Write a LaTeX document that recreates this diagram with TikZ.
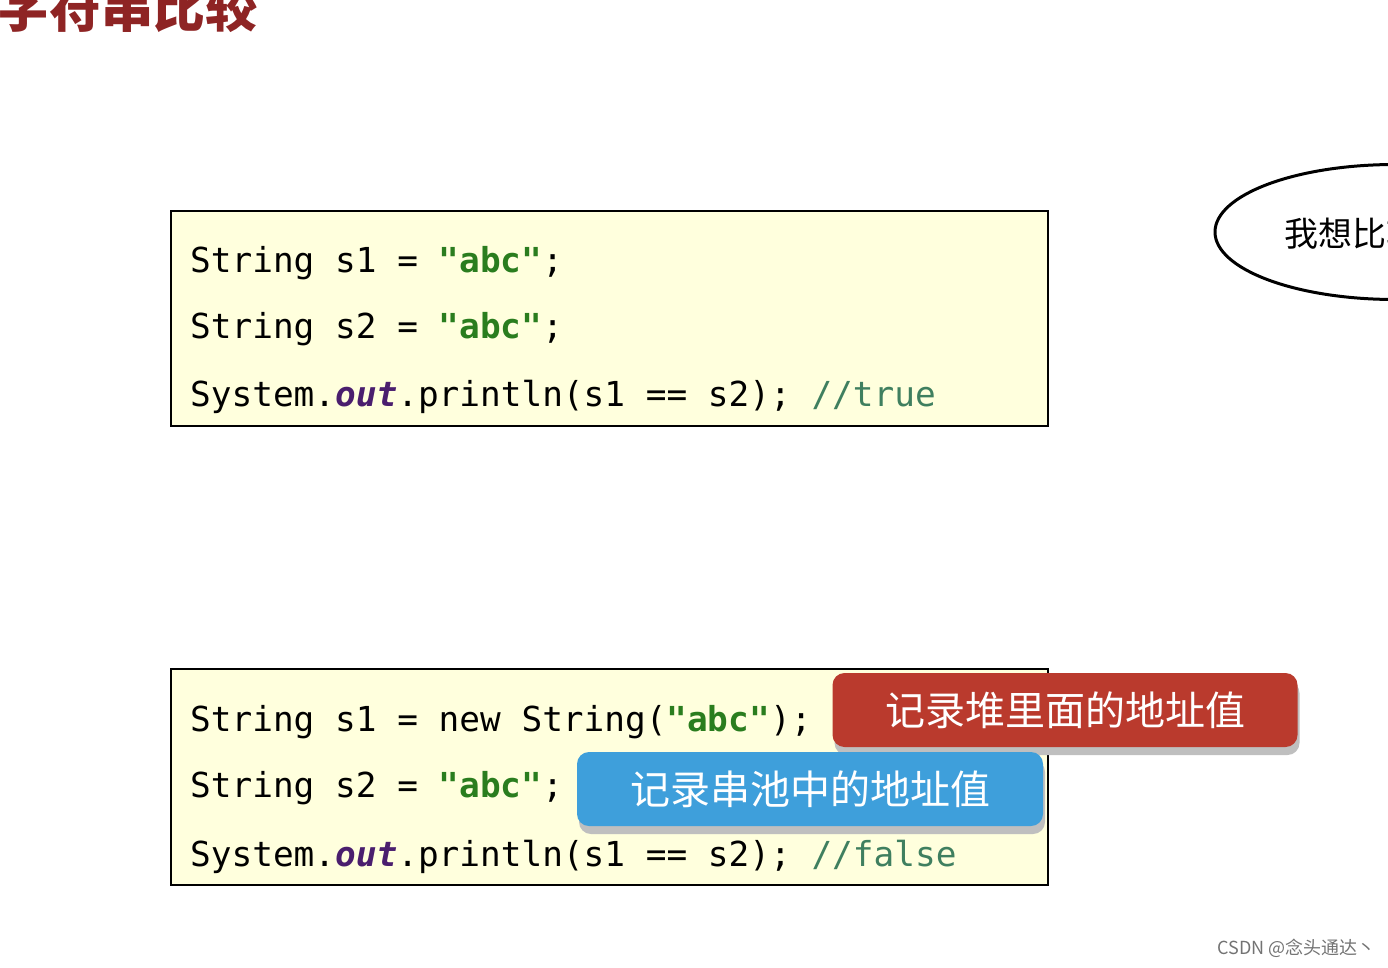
\documentclass[tikz,border=0pt]{standalone}
\usepackage{fontspec}
\setmonofont{DejaVu Sans Mono}
\newfontfamily\cjk{Noto Sans CJK SC}
\usetikzlibrary{shadows,shapes.geometric}
\definecolor{boxy}{HTML}{FFFFDD}
\definecolor{strg}{HTML}{2A7D1E}
\definecolor{kw}{HTML}{4A1E6E}
\definecolor{cmt}{HTML}{3F7F5F}
\definecolor{redc}{HTML}{BA3A2D}
\definecolor{bluec}{HTML}{3E9FDB}
\definecolor{titlec}{HTML}{8E2424}
\newcommand{\st}[1]{\textcolor{strg}{\textbf{#1}}}
\newcommand{\kwo}{\textcolor{kw}{\textbf{\textit{out}}}}
\newcommand{\cm}[1]{\textcolor{cmt}{#1}}
\tikzset{
 codebox/.style={draw=black, line width=2.5pt, fill=boxy},
 codeline/.style={anchor=base west, font=\ttfamily\fontsize{34.4}{34}\selectfont, inner sep=0},
 callout/.style={rounded corners=12pt, text=white, font=\cjk\fontsize{40}{40}\selectfont, drop shadow={shadow xshift=2pt, shadow yshift=-8pt, fill=black!25, opacity=1}},
}
\begin{document}
\begin{tikzpicture}[x=1pt,y=-1pt]
\useasboundingbox (0,0) rectangle (1388,968);
\clip (0,0) rectangle (1388,968);
\node[anchor=west, text=titlec, font=\cjk\bfseries\fontsize{52}{52}\selectfont, inner sep=0] (title) at (-3,8) {字符串比较};
\node[draw=black, line width=3pt, ellipse, minimum width=360pt, minimum height=135pt] (ell) at (1395,232) {};
\node[anchor=west, font=\cjk\fontsize{34}{34}\selectfont, inner sep=0] (ellt) at (1284,234) {我想比较};
\draw[codebox] (171,211) rectangle (1048,426);
\node[codeline] (a1) at (190,272) {String s1 = \st{"abc"};};
\node[codeline] (a2) at (190,338) {String s2 = \st{"abc"};};
\node[codeline] (a3) at (190,406) {System.\kwo.println(s1 == s2); \cm{//true}};
\draw[codebox] (171,669) rectangle (1048,885);
\node[codeline] (b1) at (190,731) {String s1 = new String(\st{"abc"});};
\node[codeline] (b2) at (190,797) {String s2 = \st{"abc"};};
\node[codeline] (b3) at (190,866) {System.\kwo.println(s1 == s2); \cm{//false}};
\node[callout, fill=redc, minimum width=465pt, minimum height=74pt] (red) at (1065,710) {记录堆里面的地址值};
\node[callout, fill=bluec, minimum width=466pt, minimum height=74pt] (blue) at (810,789) {记录串池中的地址值};
\node[anchor=east, text=black!55, font=\cjk\fontsize{18}{18}\selectfont, inner sep=0] (wm) at (1376,948) {CSDN @念头通达丶};
\end{tikzpicture}
\end{document}
